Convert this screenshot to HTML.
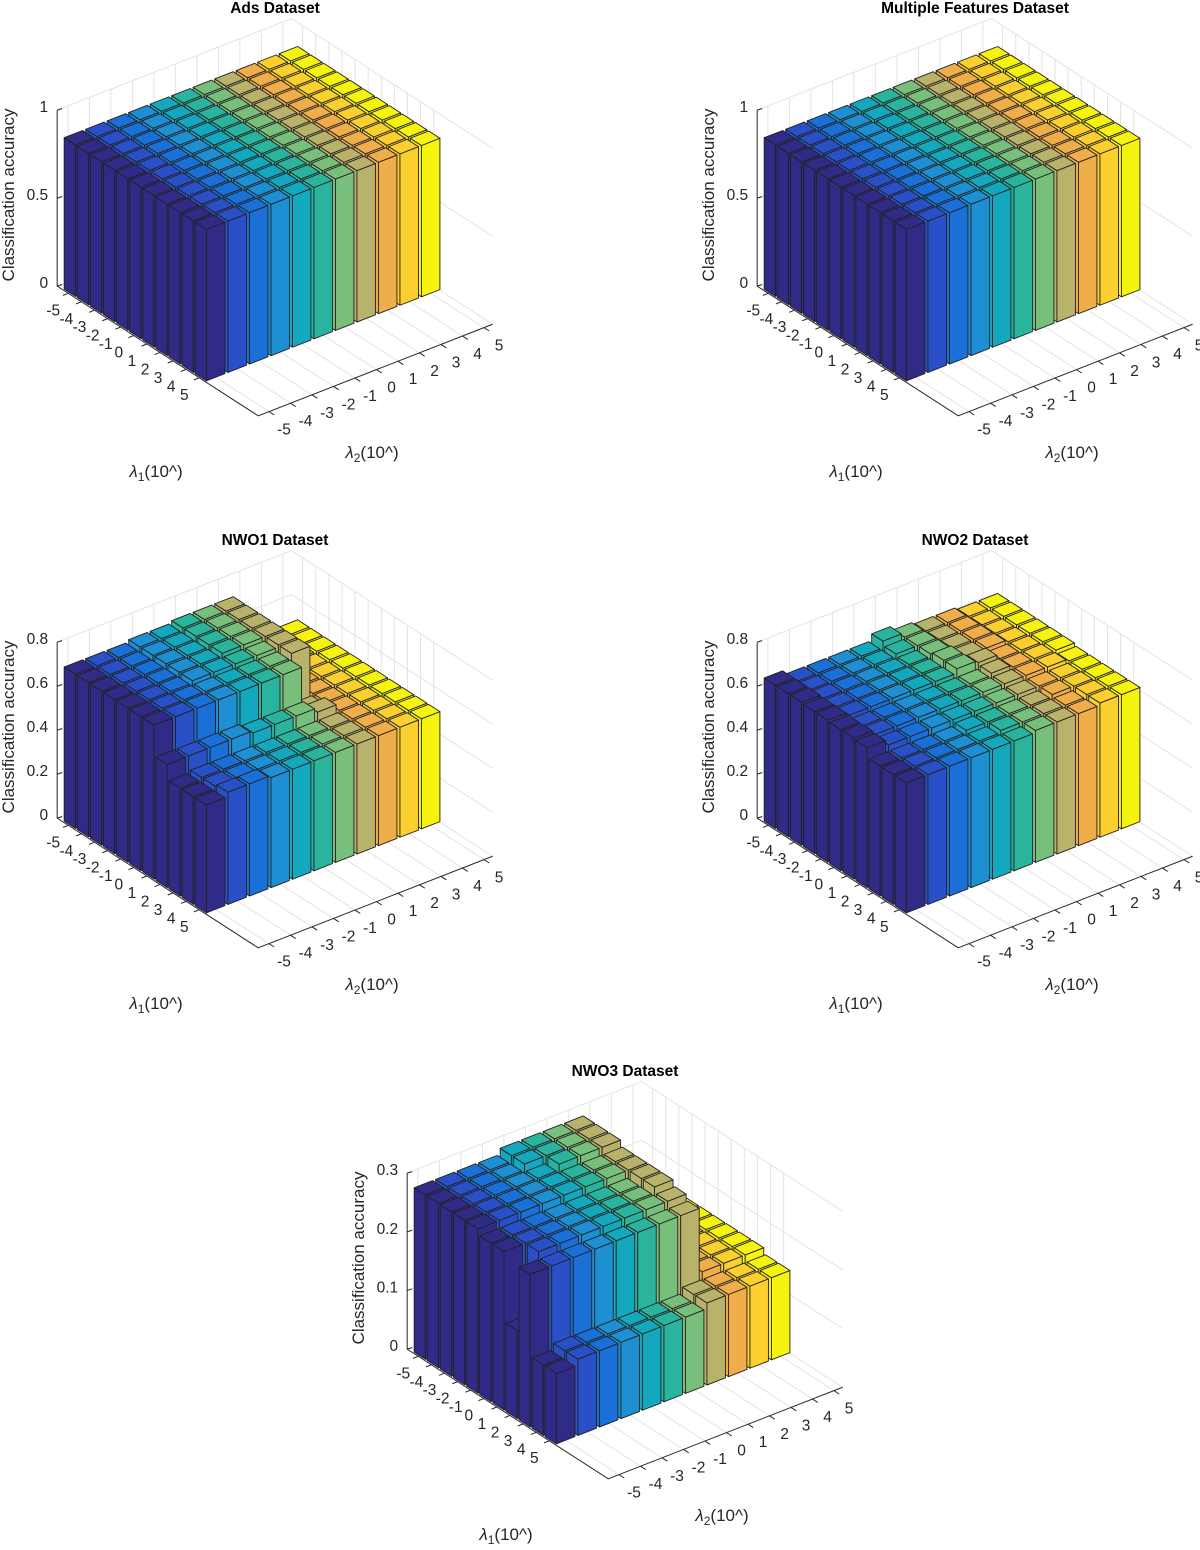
<!DOCTYPE html>
<html><head><meta charset="utf-8"><style>
html,body{margin:0;padding:0;background:#fff;}
svg{display:block;font-family:"Liberation Sans",Arial,sans-serif;}
</style></head><body>
<svg id="chart" width="1200" height="1550" viewBox="0 0 1200 1550" xmlns="http://www.w3.org/2000/svg"></svg>
<script>
const lambda1Ticks = ["-5","-4","-3","-2","-1","0","1","2","3","4","5"];
const lambda2Ticks = ["-5","-4","-3","-2","-1","0","1","2","3","4","5"];
const adsZTicks = [0, 0.5, 1];
const mfZTicks = [0, 0.5, 1];
const nwo1ZTicks = [0, 0.2, 0.4, 0.6, 0.8];
const nwo2ZTicks = [0, 0.2, 0.4, 0.6, 0.8];
const nwo3ZTicks = [0, 0.1, 0.2, 0.3];
const adsValues = [
[0.86,0.86,0.86,0.86,0.86,0.86,0.86,0.86,0.86,0.86,0.86],
[0.86,0.86,0.86,0.86,0.86,0.86,0.86,0.86,0.86,0.86,0.86],
[0.86,0.86,0.86,0.86,0.86,0.86,0.86,0.86,0.86,0.86,0.86],
[0.86,0.86,0.86,0.86,0.86,0.86,0.86,0.86,0.86,0.86,0.86],
[0.86,0.86,0.86,0.86,0.86,0.86,0.86,0.86,0.86,0.86,0.86],
[0.86,0.86,0.86,0.86,0.86,0.86,0.86,0.86,0.86,0.86,0.86],
[0.86,0.86,0.86,0.86,0.86,0.86,0.86,0.86,0.86,0.86,0.86],
[0.86,0.86,0.86,0.86,0.86,0.86,0.86,0.86,0.86,0.86,0.86],
[0.86,0.86,0.86,0.86,0.86,0.86,0.86,0.86,0.86,0.86,0.86],
[0.86,0.86,0.86,0.86,0.86,0.86,0.86,0.86,0.86,0.86,0.86],
[0.86,0.86,0.86,0.86,0.86,0.86,0.86,0.86,0.86,0.86,0.86]];
const mfValues = [
[0.86,0.86,0.86,0.86,0.86,0.86,0.86,0.86,0.86,0.86,0.86],
[0.86,0.86,0.86,0.86,0.86,0.86,0.86,0.86,0.86,0.86,0.86],
[0.86,0.86,0.86,0.86,0.86,0.86,0.86,0.86,0.86,0.86,0.86],
[0.86,0.86,0.86,0.86,0.86,0.86,0.86,0.86,0.86,0.86,0.86],
[0.86,0.86,0.86,0.86,0.86,0.86,0.86,0.86,0.86,0.86,0.86],
[0.86,0.86,0.86,0.86,0.86,0.86,0.86,0.86,0.86,0.86,0.86],
[0.86,0.86,0.86,0.86,0.86,0.86,0.86,0.86,0.86,0.86,0.86],
[0.86,0.86,0.86,0.86,0.86,0.86,0.86,0.86,0.86,0.86,0.86],
[0.86,0.86,0.86,0.86,0.86,0.86,0.86,0.86,0.86,0.86,0.86],
[0.86,0.86,0.86,0.86,0.86,0.86,0.86,0.86,0.86,0.86,0.86],
[0.86,0.86,0.86,0.86,0.86,0.86,0.86,0.86,0.86,0.86,0.86]];
const nwo1Values = [
[0.70,0.70,0.70,0.71,0.71,0.72,0.72,0.72,0.50,0.50,0.50],
[0.70,0.70,0.70,0.71,0.71,0.72,0.72,0.72,0.50,0.50,0.50],
[0.70,0.70,0.70,0.71,0.71,0.72,0.72,0.72,0.50,0.50,0.50],
[0.70,0.70,0.70,0.71,0.71,0.72,0.72,0.72,0.50,0.50,0.50],
[0.70,0.70,0.70,0.71,0.71,0.71,0.71,0.72,0.50,0.50,0.50],
[0.70,0.70,0.70,0.70,0.70,0.70,0.70,0.72,0.50,0.50,0.50],
[0.70,0.70,0.70,0.70,0.70,0.70,0.70,0.50,0.50,0.50,0.50],
[0.56,0.56,0.56,0.56,0.55,0.55,0.55,0.53,0.50,0.50,0.50],
[0.49,0.50,0.50,0.50,0.50,0.50,0.50,0.50,0.50,0.50,0.50],
[0.49,0.50,0.50,0.50,0.50,0.50,0.50,0.50,0.50,0.50,0.50],
[0.49,0.51,0.51,0.50,0.50,0.50,0.50,0.50,0.50,0.50,0.50]];
const nwo2Values = [
[0.65,0.63,0.63,0.63,0.63,0.66,0.64,0.63,0.63,0.62,0.62],
[0.65,0.63,0.63,0.63,0.63,0.64,0.64,0.63,0.63,0.62,0.62],
[0.65,0.63,0.63,0.63,0.63,0.63,0.64,0.63,0.63,0.62,0.62],
[0.645,0.63,0.63,0.63,0.63,0.63,0.65,0.63,0.63,0.62,0.62],
[0.645,0.63,0.63,0.63,0.63,0.63,0.65,0.64,0.62,0.62,0.62],
[0.64,0.62,0.62,0.62,0.62,0.62,0.62,0.63,0.62,0.62,0.62],
[0.64,0.62,0.62,0.62,0.62,0.62,0.62,0.62,0.62,0.62,0.61],
[0.635,0.61,0.61,0.61,0.61,0.61,0.61,0.61,0.61,0.61,0.61],
[0.59,0.59,0.59,0.59,0.60,0.60,0.60,0.60,0.61,0.61,0.61],
[0.59,0.59,0.59,0.59,0.59,0.60,0.60,0.60,0.60,0.61,0.61],
[0.59,0.59,0.59,0.59,0.59,0.59,0.60,0.60,0.60,0.61,0.61]];
const nwo3Values = [
[0.28,0.28,0.28,0.28,0.29,0.29,0.29,0.29,0.15,0.15,0.15],
[0.28,0.28,0.28,0.28,0.29,0.29,0.29,0.29,0.15,0.15,0.15],
[0.28,0.28,0.28,0.28,0.28,0.29,0.29,0.29,0.15,0.15,0.15],
[0.28,0.28,0.28,0.28,0.28,0.28,0.28,0.28,0.15,0.15,0.15],
[0.28,0.28,0.28,0.28,0.28,0.28,0.28,0.28,0.15,0.15,0.15],
[0.27,0.27,0.27,0.27,0.27,0.27,0.27,0.28,0.15,0.15,0.15],
[0.27,0.27,0.27,0.27,0.27,0.27,0.27,0.28,0.15,0.15,0.15],
[0.15,0.27,0.27,0.27,0.27,0.27,0.27,0.27,0.15,0.15,0.15],
[0.26,0.26,0.26,0.26,0.26,0.26,0.26,0.26,0.15,0.15,0.15],
[0.12,0.13,0.13,0.13,0.13,0.13,0.13,0.14,0.14,0.14,0.14],
[0.12,0.13,0.13,0.13,0.13,0.13,0.13,0.14,0.14,0.14,0.14]];
const columnColors = ["#2f2b87","#2a50c8","#1a70d6","#1e8fd2","#14a8be","#2ab39d","#79bf7c","#b9b26a","#f0ae4a","#fbcf2e","#f7f310"];
const plotTitles = ["Ads Dataset","Multiple Features Dataset","NWO1 Dataset","NWO2 Dataset","NWO3 Dataset"];

const NS = "http://www.w3.org/2000/svg";
const svg = document.getElementById("chart");
const UMIN = -0.85, UMAX = 14.5, VMIN = -0.5, VMAX = 10.4, BOXH = 176, HW = 0.43;

function mk(tag, attrs, parent) {
  const e = document.createElementNS(NS, tag);
  for (const k in attrs) e.setAttribute(k, attrs[k]);
  parent.appendChild(e);
  return e;
}

function drawPlot(title, values, zTicks, dx, dy, slug) {
  const zmax = zTicks[zTicks.length - 1];
  const sx = (u, v) => dx + 79.05 + 13.1 * u + 21.5 * v;
  const sy = (u, v, z) => dy + 289.1 + 8.45 * u - 8.4 * v - z * (BOXH / zmax);
  const P = (u, v, z) => sx(u, v).toFixed(2) + "," + sy(u, v, z).toFixed(2);
  const g = mk("g", {}, svg);
  
  

  const grid = mk("g", {stroke: "#e3e3e3", "stroke-width": 1, fill: "none"}, g);
  
  
  for (let k = 0; k < lambda1Ticks.length; k++) {
    mk("polyline", {points: P(k, VMIN, 0) + " " + P(k, VMAX, 0) + " " + P(k, VMAX, zmax)}, grid);
  }
  for (let k = 0; k < lambda2Ticks.length; k++) {
    mk("polyline", {points: P(UMAX, k, 0) + " " + P(UMIN, k, 0) + " " + P(UMIN, k, zmax)}, grid);
  }
  zTicks.forEach(z => {
    mk("polyline", {points: P(UMIN, VMIN, z) + " " + P(UMIN, VMAX, z) + " " + P(UMAX, VMAX, z)}, grid);
  });

  const ax = mk("g", {stroke: "#262626", "stroke-width": 1, fill: "none"}, g);
  
  
  mk("polyline", {points: P(UMIN, VMIN, zmax) + " " + P(UMIN, VMIN, 0) + " " + P(UMAX, VMIN, 0) + " " + P(UMAX, VMAX, 0)}, ax);
  zTicks.forEach(z => {
    mk("line", {x1: sx(UMIN, VMIN), y1: sy(UMIN, VMIN, z), x2: sx(UMIN, VMIN) + 5, y2: sy(UMIN, VMIN, z) - 1.5}, ax);
  });
  for (let k = 0; k < lambda1Ticks.length; k++) {
    mk("line", {x1: sx(k, VMIN), y1: sy(k, VMIN, 0), x2: sx(k, VMIN - 0.25), y2: sy(k, VMIN - 0.25, 0)}, ax);
  }
  for (let k = 0; k < lambda2Ticks.length; k++) {
    mk("line", {x1: sx(UMAX, k), y1: sy(UMAX, k, 0), x2: sx(UMAX + 0.4, k), y2: sy(UMAX + 0.4, k, 0)}, ax);
  }

  const bars = mk("g", {stroke: "#222", "stroke-width": 0.9, "stroke-linejoin": "round"}, g);
  
  
  const n = values.length;
  for (let i = 0; i < n; i++) {
    for (let j = values[i].length - 1; j >= 0; j--) {
      const h = values[i][j];
      const u0 = i - HW, u1 = i + HW, v0 = j - HW, v1 = j + HW;
      const col = columnColors[j];
      const b = mk("g", {fill: col}, bars);
      
      
      mk("polygon", {points: [P(u0,v0,0),P(u1,v0,0),P(u1,v0,h),P(u0,v0,h)].join(" ")}, b);
      mk("polygon", {points: [P(u1,v0,0),P(u1,v1,0),P(u1,v1,h),P(u1,v0,h)].join(" ")}, b);
      mk("polygon", {points: [P(u0,v0,h),P(u1,v0,h),P(u1,v1,h),P(u0,v1,h)].join(" ")}, b);
    }
  }

  const t = mk("text", {x: dx + 275, y: dy + 13, "text-anchor": "middle", "font-size": 15.5, "font-weight": "bold", fill: "#000"}, g);
  t.textContent = title;
  
  

  zTicks.forEach(z => {
    const tl = mk("text", {x: sx(UMIN, VMIN) - 9, y: sy(UMIN, VMIN, z) - 2, "text-anchor": "end", "font-size": 15.5, "dominant-baseline": "middle", fill: "#262626"}, g);
    tl.textContent = String(z);
    
    
  });
  for (let k = 0; k < lambda1Ticks.length; k++) {
    const tl = mk("text", {x: sx(k, VMIN) - 15, y: sy(k, VMIN, 0) + 22, "text-anchor": "middle", "font-size": 15.5, fill: "#262626"}, g);
    tl.textContent = lambda1Ticks[k];
    
    
  }
  for (let k = 0; k < lambda2Ticks.length; k++) {
    const tl = mk("text", {x: sx(UMAX, k) + 15, y: sy(UMAX, k, 0) + 23, "text-anchor": "middle", "font-size": 15.5, fill: "#262626"}, g);
    tl.textContent = lambda2Ticks[k];
    
    
  }
  const zl = mk("text", {x: dx + 14, y: dy + 195, transform: "rotate(-90 " + (dx + 14) + " " + (dy + 195) + ")", "text-anchor": "middle", "font-size": 17, fill: "#262626"}, g);
  zl.textContent = "Classification accuracy";
  
  

  const l1 = mk("text", {x: dx + 156, y: dy + 477, "text-anchor": "middle", "font-size": 17, fill: "#262626"}, g);
  l1.innerHTML = '<tspan font-style="italic">λ</tspan><tspan font-size="12" dy="4">1</tspan><tspan dy="-4">(10^)</tspan>';
  
  
  const l2 = mk("text", {x: dx + 372, y: dy + 458, "text-anchor": "middle", "font-size": 17, fill: "#262626"}, g);
  l2.innerHTML = '<tspan font-style="italic">λ</tspan><tspan font-size="12" dy="4">2</tspan><tspan dy="-4">(10^)</tspan>';
  
  
}

drawPlot(plotTitles[0], adsValues, adsZTicks, 0, 0, "ads");
drawPlot(plotTitles[1], mfValues, mfZTicks, 700, 0, "multiple-features");
drawPlot(plotTitles[2], nwo1Values, nwo1ZTicks, 0, 532, "nwo1");
drawPlot(plotTitles[3], nwo2Values, nwo2ZTicks, 700, 532, "nwo2");
drawPlot(plotTitles[4], nwo3Values, nwo3ZTicks, 350, 1063, "nwo3");
</script>
</body></html>
